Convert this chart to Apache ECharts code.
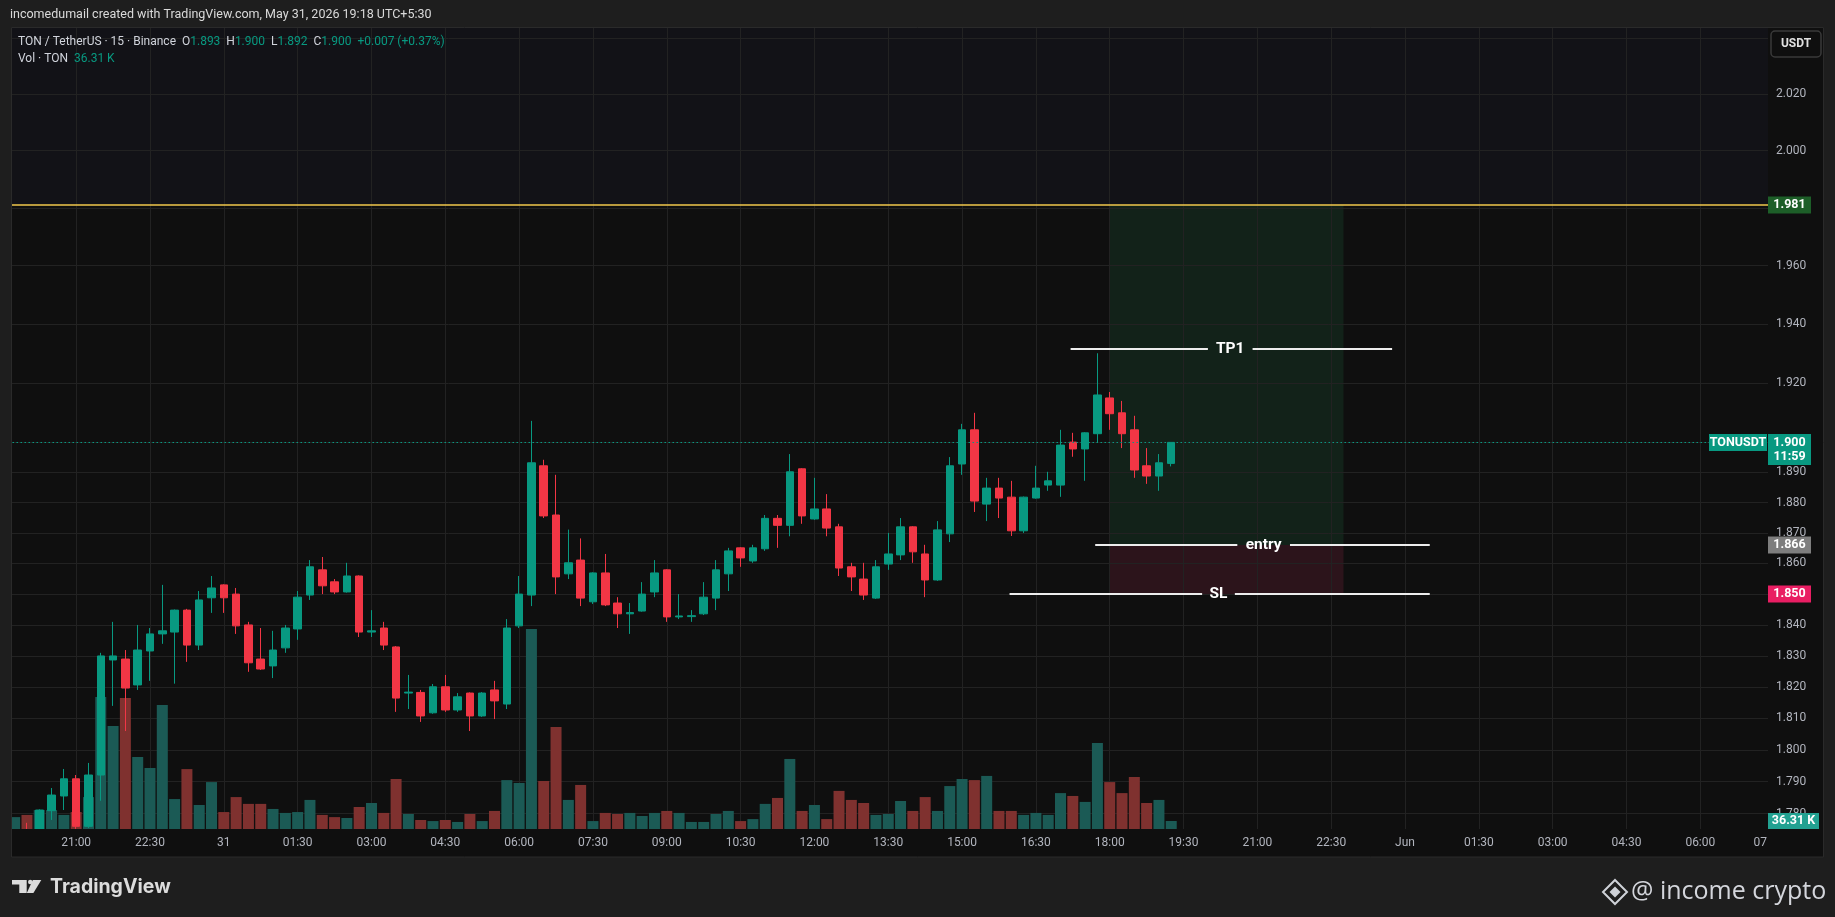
<!DOCTYPE html>
<html>
<head>
<meta charset="utf-8">
<title>TON / TetherUS 15m</title>
<script src="https://cdn.jsdelivr.net/npm/echarts@6/dist/echarts.min.js"></script>
<style>
html,body{margin:0;padding:0;background:#1e1e1e;overflow:hidden;}
#chart{width:1835px;height:917px;}
</style>
</head>
<body>
<div id="chart"></div>
<script>
// ---------------- data ----------------
const opens = [1.7725,1.7750,1.7738,1.7809,1.7855,1.7909,1.7760,1.7921,1.8287,1.8290,
 1.8207,1.8316,1.8371,1.8377,1.8448,1.8335,1.8488,1.8530,1.8500,1.8400,
 1.8290,1.8268,1.8326,1.8387,1.8497,1.8579,1.8540,1.8507,1.8559,1.8377,
 1.8390,1.8329,1.8181,1.8183,1.8118,1.8201,1.8127,1.8181,1.8108,1.8191,
 1.8146,1.8397,1.8497,1.8922,1.8759,1.8566,1.8611,1.8475,1.8569,1.8471,
 1.8436,1.8445,1.8507,1.8579,1.8426,1.8427,1.8436,1.8487,1.8566,1.8651,
 1.8608,1.8648,1.8748,1.8725,1.8912,1.8746,1.8779,1.8720,1.8589,1.8549,
 1.8487,1.8598,1.8628,1.8720,1.8631,1.8546,1.8697,1.8928,1.9042,1.8795,
 1.8848,1.8818,1.8707,1.8815,1.8858,1.8858,1.9001,1.8978,1.9029,1.9149,
 1.9099,1.9042,1.8922,1.8888,1.8930];
const highs = [1.7750,1.7771,1.7813,1.7880,1.7940,1.7921,1.7959,1.8310,1.8410,1.8319,
 1.8400,1.8390,1.8530,1.8450,1.8452,1.8510,1.8559,1.8532,1.8520,1.8410,
 1.8390,1.8381,1.8400,1.8510,1.8611,1.8621,1.8549,1.8602,1.8561,1.8448,
 1.8410,1.8332,1.8239,1.8191,1.8210,1.8239,1.8181,1.8183,1.8184,1.8220,
 1.8419,1.8559,1.9072,1.8942,1.8892,1.8711,1.8682,1.8571,1.8631,1.8490,
 1.8471,1.8539,1.8611,1.8581,1.8500,1.8448,1.8539,1.8611,1.8651,1.8653,
 1.8661,1.8759,1.8759,1.8961,1.8914,1.8882,1.8828,1.8730,1.8602,1.8602,
 1.8611,1.8700,1.8749,1.8722,1.8661,1.8739,1.8951,1.9062,1.9099,1.8882,
 1.8882,1.8872,1.8820,1.8922,1.8902,1.9042,1.9032,1.9034,1.9300,1.9169,
 1.9139,1.9089,1.8981,1.8961,1.9000];
const lows = [1.7710,1.7720,1.7725,1.7780,1.7811,1.7752,1.7755,1.7840,1.8140,1.8060,
 1.8191,1.8220,1.8339,1.8211,1.8281,1.8319,1.8439,1.8439,1.8371,1.8249,
 1.8255,1.8229,1.8310,1.8352,1.8481,1.8500,1.8500,1.8505,1.8361,1.8361,
 1.8319,1.8121,1.8130,1.8089,1.8115,1.8121,1.8121,1.8060,1.8105,1.8098,
 1.8130,1.8390,1.8461,1.8749,1.8500,1.8549,1.8461,1.8468,1.8461,1.8390,
 1.8371,1.8443,1.8490,1.8410,1.8419,1.8410,1.8432,1.8448,1.8510,1.8589,
 1.8602,1.8641,1.8651,1.8689,1.8730,1.8743,1.8689,1.8559,1.8510,1.8481,
 1.8484,1.8579,1.8611,1.8602,1.8490,1.8543,1.8670,1.8892,1.8769,1.8739,
 1.8749,1.8690,1.8700,1.8813,1.8839,1.8819,1.8952,1.8872,1.8998,1.9042,
 1.8981,1.8882,1.8862,1.8839,1.8920];
const closes = [1.7745,1.7735,1.7811,1.7858,1.7909,1.7760,1.7921,1.8300,1.8300,1.8197,
 1.8319,1.8371,1.8381,1.8448,1.8335,1.8481,1.8520,1.8488,1.8397,1.8278,
 1.8258,1.8319,1.8390,1.8490,1.8589,1.8527,1.8507,1.8559,1.8377,1.8381,
 1.8335,1.8165,1.8184,1.8108,1.8201,1.8127,1.8169,1.8108,1.8181,1.8156,
 1.8390,1.8500,1.8932,1.8756,1.8556,1.8602,1.8487,1.8569,1.8465,1.8436,
 1.8440,1.8500,1.8569,1.8426,1.8429,1.8430,1.8490,1.8579,1.8641,1.8618,
 1.8651,1.8748,1.8725,1.8902,1.8756,1.8779,1.8716,1.8585,1.8556,1.8497,
 1.8589,1.8631,1.8720,1.8638,1.8546,1.8710,1.8922,1.9042,1.8805,1.8848,
 1.8815,1.8707,1.8818,1.8848,1.8872,1.8991,1.8978,1.9032,1.9159,1.9096,
 1.9029,1.8908,1.8888,1.8932,1.9000];
// volume in thousands of TON
const volumesK = [54,64,86,86,64,77,145,599,468,595,
 327,277,563,136,272,109,213,77,145,114,
 114,91,73,77,132,64,54,50,100,118,
 73,227,68,41,36,41,32,68,36,82,
 222,209,908,218,463,132,200,36,73,68,
 73,59,73,82,73,32,32,68,82,36,
 45,114,141,318,82,109,45,173,132,118,
 64,68,127,82,145,82,195,227,222,241,
 82,82,64,73,64,163,150,123,390,213,
 163,236,118,132,36.31];

// price axis ticks
const priceGridValues = [2.04,2.02,2.00,1.98,1.96,1.94,1.92,1.90,1.89,1.88,1.87,1.86,1.85,1.84,1.83,1.82,1.81,1.80,1.79,1.78];
const priceLabelValues = [2.02,2.00,1.96,1.94,1.92,1.89,1.88,1.87,1.86,1.84,1.83,1.82,1.81,1.80,1.79,1.78];

// time axis: 15-minute slots starting 30 May 19:45 (incl. empty future slots)
const startMinutes = 19 * 60 + 45;
const slotMinutes = 15;
const slotCount = 143;
const timeLabelStep = 6;      // every 90 minutes
const timeLabelFirst = 5;     // 21:00

// drawing levels
const resistanceLevel = 1.981;
const lastPrice = 1.900;
const entryLevel = 1.866;
const stopLevel = 1.850;
const tp1Level = 1.9315;
// drawing anchors in slot units (slot 89 = 31 May 18:00)
const zoneSlots = [89, 108];
const tp1Slots = [85.82, 96.98, 100.61, 111.95];
const entrySlots = [87.82, 99.37, 103.65, 115.01];
const slSlots = [80.86, 96.51, 99.17, 115.01];

// ---------------- build ----------------
const pad = n => (n < 10 ? '0' : '') + n;
const categories = [];
for (let i = 0; i < slotCount; i++) {
  const t = startMinutes + slotMinutes * i;
  const dayOff = Math.floor(t / 1440);
  const m = t % 1440;
  let s = pad(Math.floor(m / 60)) + ':' + pad(m % 60);
  if (m === 0) s = dayOff === 1 ? '31' : 'Jun';
  categories.push(s);
}
const timeGridSlots = [];
for (let i = timeLabelFirst; i < slotCount; i += timeLabelStep) timeGridSlots.push(i);

const UP = '#089981', DOWN = '#f23645';
const VOL_UP = '#1b5a55', VOL_DOWN = '#7f312f';
const FONT = 'Roboto';
const AXIS_TEXT = '#b2b5be';

const ohlc = opens.map((o, i) => [o, closes[i], lows[i], highs[i]]);
const volData = volumesK.map((v, i) => ({
  value: v,
  itemStyle: { color: closes[i] >= opens[i] ? VOL_UP : VOL_DOWN }
}));

const labelSet = priceLabelValues.map(v => v.toFixed(3));
const gridLines = priceGridValues.map(v => ({
  yAxis: v,
  label: labelSet.includes(v.toFixed(3))
    ? { show: true, position: 'end', formatter: v.toFixed(3), color: AXIS_TEXT, fontSize: 12, fontFamily: FONT, distance: 8 }
    : { show: false }
})).concat(timeGridSlots.map(i => ({ xAxis: i, label: { show: false } })));

const seg = (a, b, y, style) => [
  { coord: [a, y], lineStyle: style },
  { coord: [b, y], lineStyle: style }
];
const white = { color: '#ededed', width: 2, type: 'solid' };

const drawLines = [
  { yAxis: resistanceLevel, lineStyle: { color: '#f2c94c', width: 1.5, type: 'solid' } },
  { yAxis: lastPrice, lineStyle: { color: UP, width: 1, type: [1.5, 2.5] } },
  seg(tp1Slots[0], tp1Slots[1], tp1Level, white),
  seg(tp1Slots[2], tp1Slots[3], tp1Level, white),
  seg(entrySlots[0], entrySlots[1], entryLevel, white),
  seg(entrySlots[2], entrySlots[3], entryLevel, white),
  seg(slSlots[0], slSlots[1], stopLevel, white),
  seg(slSlots[2], slSlots[3], stopLevel, white)
];

const yMin = 1.77517, yMax = 2.04392;

const option = {
  animation: false,
  backgroundColor: '#0f0f0f',
  grid: { left: 8.5, right: 67, top: 27, bottom: 88, containLabel: false },
  xAxis: [
    {
      type: 'category', data: categories, boundaryGap: true, z: 60,
      axisLine: { show: false }, axisTick: { show: false }, splitLine: { show: false },
      axisLabel: {
        interval: (idx) => idx >= timeLabelFirst && (idx - timeLabelFirst) % timeLabelStep === 0,
        color: AXIS_TEXT, fontSize: 12, fontFamily: FONT, margin: 8
      }
    },
    { type: 'value', min: -0.5, max: slotCount - 0.5, show: false }
  ],
  yAxis: [
    { type: 'log', min: yMin, max: yMax, show: false },
    { type: 'value', min: 0, max: 3641, show: false }
  ],
  series: [
    {
      name: 'grid', type: 'line', xAxisIndex: 1, yAxisIndex: 0, data: [], silent: true, z: 1,
      markArea: {
        silent: true, z: 1, animation: false, label: { show: false },
        data: [
          [{ yAxis: resistanceLevel, itemStyle: { color: 'rgba(30,30,55,0.2)' } }, { yAxis: yMax }],
          [{ coord: [zoneSlots[0], resistanceLevel], itemStyle: { color: 'rgba(42,148,88,0.15)' } }, { coord: [zoneSlots[1], entryLevel] }],
          [{ coord: [zoneSlots[0], entryLevel], itemStyle: { color: 'rgba(200,48,95,0.16)' } }, { coord: [zoneSlots[1], stopLevel] }]
        ]
      },
      markLine: {
        silent: true, z: 1, animation: false, symbol: ['none', 'none'], precision: 4,
        label: { show: false },
        lineStyle: { color: '#222222', width: 1, type: 'solid' },
        emphasis: { disabled: true },
        data: gridLines
      }
    },
    {
      name: 'Vol', type: 'bar', xAxisIndex: 0, yAxisIndex: 1, data: volData,
      barWidth: 11, z: 2, silent: true
    },
    {
      name: 'TONUSDT', type: 'candlestick', xAxisIndex: 0, yAxisIndex: 0, data: ohlc,
      barWidth: 8, z: 3, silent: true, clip: true,
      itemStyle: { color: UP, color0: DOWN, borderColor: UP, borderColor0: DOWN, borderWidth: 1 }
    },
    {
      name: 'drawings', type: 'line', xAxisIndex: 1, yAxisIndex: 0, data: [], silent: true, z: 6,
      markLine: {
        silent: true, z: 6, animation: false, symbol: ['none', 'none'], precision: 4,
        label: { show: false }, emphasis: { disabled: true },
        data: drawLines
      }
    }
  ]
};

const chart = echarts.init(document.getElementById('chart'), null, { renderer: 'canvas' });
chart.setOption(option);

// ---------------- overlays positioned through the chart's own scales ----------------
const px = v => chart.convertToPixel({ xAxisIndex: 1 }, v);
const py = v => chart.convertToPixel({ yAxisIndex: 0 }, v);
const pv = v => chart.convertToPixel({ yAxisIndex: 1 }, v);

const els = [];
let uid = 0;
const rect = (x, y, w, h, style, z, r) => els.push({ type: 'rect', id: 'g' + (uid++), z: z || 80, silent: true, shape: { x, y, width: w, height: h, r: r || 0 }, style });
const text = (x, y, t, o, z) => els.push({
  type: 'text', id: 'g' + (uid++), z: z || 81, silent: true,
  style: Object.assign({ text: t, x, y, fill: '#d1d4dc', fontSize: 12, fontFamily: FONT, textAlign: 'left', textVerticalAlign: 'middle' }, o)
});

// mask below the price pane (time-axis row) so partially visible candles end at the pane edge
const paneBottom = pv(0);
rect(11, paneBottom, 1813, 857 - paneBottom, { fill: '#0f0f0f' }, 50);

// frame
rect(0, 0, 1835, 27, { fill: '#1e1e1e' }, 90);
rect(0, 0, 11, 917, { fill: '#1e1e1e' }, 90);
rect(1824, 0, 11, 917, { fill: '#1e1e1e' }, 90);
rect(0, 857, 1835, 60, { fill: '#1e1e1e' }, 90);
rect(11.5, 27.5, 1812, 829.5, { fill: 'none', stroke: '#2a2a2a', lineWidth: 1 }, 91);

// header
text(10, 14.5, 'incomedumail created with TradingView.com, May 31, 2026 19:18 UTC+5:30', { fill: '#dadada', fontSize: 12.5 }, 92);

// legend
const legendRich = {
  t: { fill: '#d1d4dc', fontSize: 12, fontFamily: FONT },
  v: { fill: UP, fontSize: 12, fontFamily: FONT }
};
text(18, 42, '{t|TON / TetherUS · 15 · Binance}  {t|O}{v|' + opens[94].toFixed(3) + '}  {t|H}{v|' + highs[94].toFixed(3) + '}  {t|L}{v|' + lows[94].toFixed(3) + '}  {t|C}{v|' + closes[94].toFixed(3) + '}  {v|+0.007 (+0.37%)}', { rich: legendRich }, 60);
text(18, 59, '{t|Vol · TON}  {v|' + volumesK[94].toFixed(2) + ' K}', { rich: legendRich }, 60);

// currency button
rect(1771, 31, 50, 26, { fill: '#0f0f0f', stroke: '#3a3a3a', lineWidth: 1.5 }, 92, 4);
text(1796, 44, 'USDT', { fill: '#e0e0e0', fontSize: 12, fontWeight: 'bold', textAlign: 'center' }, 93);

// drawing labels
const drawLabel = { fill: '#ffffff', fontSize: 15.5, fontWeight: 'bold', textAlign: 'center' };
text(px((tp1Slots[1] + tp1Slots[2]) / 2), py(tp1Level), 'TP1', drawLabel, 60);
text(px((entrySlots[1] + entrySlots[2]) / 2), py(entryLevel), 'entry', drawLabel, 60);
text(px((slSlots[1] + slSlots[2]) / 2), py(stopLevel), 'SL', drawLabel, 60);

// price tags on the axis
const tag = (x, yc, w, h, fill, label) => {
  rect(x, yc - h / 2, w, h, { fill }, 85);
  text(x + w / 2, yc, label, { fill: '#ffffff', fontSize: 12.5, fontWeight: 'bold', textAlign: 'center' }, 86);
};
tag(1768, py(resistanceLevel), 43, 17, '#1d5e28', resistanceLevel.toFixed(3));
tag(1768, py(entryLevel), 43, 17, '#7e7e7e', entryLevel.toFixed(3));
tag(1768, py(stopLevel), 43, 17, '#e91e63', stopLevel.toFixed(3));
tag(1709, py(lastPrice), 58, 17, UP, 'TONUSDT');
const ly = py(lastPrice);
rect(1768, ly - 8.5, 43, 31, { fill: UP }, 85);
text(1789.5, ly, lastPrice.toFixed(3), { fill: '#ffffff', fontSize: 12.5, fontWeight: 'bold', textAlign: 'center' }, 86);
text(1789.5, ly + 14, '11:59', { fill: '#ffffff', fontSize: 12.5, fontWeight: 'bold', textAlign: 'center' }, 86);
tag(1768, pv(volumesK[94]), 51, 16, '#22a191', volumesK[94].toFixed(2) + ' K');

// clipped next time label at the right edge
text(1767, 843, '07', { fill: AXIS_TEXT, fontSize: 12, textAlign: 'right' }, 60);

// footer: TradingView logo + watermark
els.push({ type: 'polygon', id: 'g' + (uid++), z: 92, silent: true, shape: { points: [[12, 880], [26.7, 880], [26.7, 893], [19.3, 893], [19.3, 884.4], [12, 884.4]] }, style: { fill: '#dcdcdc' } });
els.push({ type: 'circle', id: 'g' + (uid++), z: 92, silent: true, shape: { cx: 30.2, cy: 882, r: 2.2 }, style: { fill: '#dcdcdc' } });
els.push({ type: 'polygon', id: 'g' + (uid++), z: 92, silent: true, shape: { points: [[32.8, 880], [41.3, 880], [33.4, 893], [26.8, 893]] }, style: { fill: '#dcdcdc' } });
text(50, 887, 'TradingView', { fill: '#dcdcdc', fontSize: 19.5, fontWeight: 'bold', fontFamily: 'Inter' }, 92);
els.push({ type: 'polygon', id: 'g' + (uid++), z: 92, silent: true, shape: { points: [[1615, 880], [1627, 892], [1615, 904], [1603, 892]] }, style: { fill: 'none', stroke: '#cfd2d8', lineWidth: 2 } });
els.push({ type: 'polygon', id: 'g' + (uid++), z: 92, silent: true, shape: { points: [[1615, 886.5], [1620.5, 892], [1615, 897.5], [1609.5, 892]] }, style: { fill: '#cfd2d8' } });
text(1631, 892, '@ income crypto', { fill: '#d4d6dc', fontSize: 25, fontFamily: 'Open Sans' }, 92);

chart.setOption({ graphic: { elements: els } });
</script>
</body>
</html>
